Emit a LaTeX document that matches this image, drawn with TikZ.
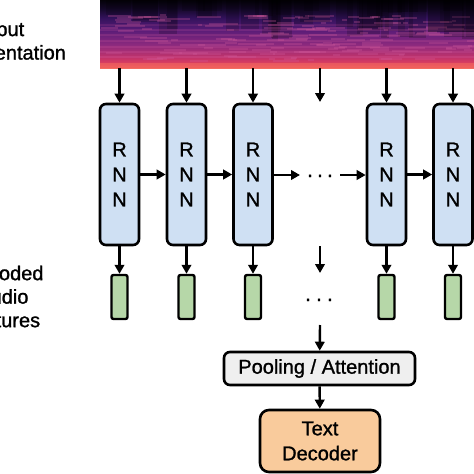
\documentclass[tikz,border=0pt]{standalone}
\usepackage{fontspec}
\setmainfont[FakeBold=1.2]{Liberation Sans}
\usetikzlibrary{arrows.meta}
\definecolor{rnnblue}{HTML}{CFE0F3}
\definecolor{featgreen}{HTML}{B6D7A8}
\definecolor{poolgray}{HTML}{EFEFEF}
\definecolor{decorange}{HTML}{F9CB9C}
\definecolor{spA}{HTML}{F47060}
\definecolor{spB}{HTML}{E8475A}
\definecolor{spC}{HTML}{C73468}
\definecolor{spD}{HTML}{8E2A7E}
\definecolor{spE}{HTML}{5A1C78}
\definecolor{spF}{HTML}{33125C}
\definecolor{spG}{HTML}{140828}
\definecolor{spH}{HTML}{05020A}
\definecolor{specpink}{HTML}{D25A9C}
\pgfdeclareverticalshading{specshade}{100bp}{color(0bp)=(spA); color(25bp)=(spA); color(27bp)=(spB); color(32bp)=(spC); color(42bp)=(spD); color(53bp)=(spE); color(62bp)=(spF); color(69bp)=(spG); color(75bp)=(spH); color(100bp)=(spH)}
\tikzset{
  arr/.style={line width=2.4pt, -{Triangle[length=9pt,width=9.5pt]}},
  rnnbox/.style={draw, line width=2.6pt, fill=rnnblue, rounded corners=6pt, minimum width=39pt, minimum height=141pt, inner sep=0pt, align=center, font=\fontsize{20}{25}\selectfont},
  featbox/.style={draw, line width=2.4pt, fill=featgreen, rounded corners=2pt, minimum width=16pt, minimum height=44pt, inner sep=0pt},
  poolbox/.style={draw, line width=2.6pt, fill=poolgray, rounded corners=6pt, minimum width=191pt, minimum height=33pt, inner sep=0pt, font=\fontsize{20}{25}\selectfont},
  decbox/.style={draw, line width=2.6pt, fill=decorange, rounded corners=9pt, minimum width=120pt, minimum height=62pt, inner sep=0pt, align=center, font=\fontsize{20}{25}\selectfont},
  lab/.style={align=center, inner sep=0pt, font=\fontsize{20}{23.5}\selectfont},
  dots/.style={inner sep=0pt, font=\fontsize{20}{24}\selectfont}
}
\begin{document}
\begin{tikzpicture}[x=1pt,y=-1pt]
\useasboundingbox (0,0) rectangle (474,474);
\clip (0,0) rectangle (474,474);
\fill[white] (0,0) rectangle (474,474);

% spectrogram
\node[name=spec, anchor=north west, inner sep=0pt, minimum width=374pt, minimum height=68pt, shading=specshade] at (100,0) {};
\begin{scope}
\clip (100,0) rectangle (474,68);
\pgfmathsetseed{3}
\foreach \i in {1,...,40}{
  \pgfmathsetmacro{\sx}{100+374*rnd}
  \pgfmathsetmacro{\sy}{10+30*rnd}
  \pgfmathsetmacro{\sw}{6+20*rnd}
  \fill[black, opacity=0.18] (\sx,0) rectangle ++(\sw,\sy);
}
\foreach \i in {1,...,170}{
  \pgfmathsetmacro{\sx}{100+374*rnd}
  \pgfmathsetmacro{\sy}{14+46*rnd}
  \pgfmathsetmacro{\sw}{4+26*rnd}
  \fill[specpink, opacity=0.28] (\sx,\sy) rectangle ++(\sw,2);
}
\foreach \yy/\op in {24/0.15, 29/0.2, 34/0.2, 40/0.22, 46/0.22, 51/0.25, 56/0.28}
  \fill[specpink, opacity=\op] (100,\yy) rectangle (474,\yy+1.6);
\fill[black, opacity=0.35] (428,0) rectangle (474,32);
\fill[black, opacity=0.2] (300,0) rectangle (330,22);
\fill[spA, opacity=0.5] (100,63) rectangle (474,66.5);
\end{scope}

% left labels
\node[lab] (inlab) at (2,43) {Input\\representation};
\node[lab] (enclab) at (4,296.5) {Encoded\\audio\\features};

% RNN boxes
\node[rnnbox] (r1) at (119.5,174.5) {R\\N\\N};
\node[rnnbox] (r2) at (186.5,174.5) {R\\N\\N};
\node[rnnbox] (r3) at (253,174.5) {R\\N\\N};
\node[rnnbox] (r4) at (386.5,174.5) {R\\N\\N};
\node[rnnbox] (r5) at (453,174.5) {R\\N\\N};

% middle column helpers
\coordinate (mtop) at (320,102);
\coordinate (rgapL) at (300,175);
\coordinate (rgapR) at (340,175);
\coordinate (mbot) at (320,273);
\coordinate (mlow) at (320,325);
\node[dots, anchor=base] (hdots) at (320,177) {.\hspace{4.4pt}.\hspace{4.4pt}.};
\node[dots, anchor=base] (fdots) at (319,301) {.\hspace{5.4pt}.\hspace{5.4pt}.};

% feature boxes
\node[featbox] (f1) at (119.5,297) {};
\node[featbox] (f2) at (186.5,297) {};
\node[featbox] (f3) at (253,297) {};
\node[featbox] (f4) at (386.5,297) {};
\node[featbox] (f5) at (453,297) {};

% pooling and decoder
\node[poolbox] (pool) at (319.5,368.5) {Pooling / Attention};
\node[decbox] (dec) at (320,441) {Text\\Decoder};

% arrows from spectrogram
\foreach \n in {r1,r2,r3,r4,r5}
  \draw[arr] (spec.south -| \n) -- (\n);
\draw[arr] (spec.south -| mtop) -- (mtop);

% recurrent arrows
\draw[arr] (r1) -- (r2);
\draw[arr] (r2) -- (r3);
\draw[arr] (r3.east |- rgapL) -- (rgapL);
\draw[arr] (rgapR) -- (r4.west |- rgapR);
\draw[arr] (r4) -- (r5);

% down to features
\draw[arr] (r1) -- (f1);
\draw[arr] (r2) -- (f2);
\draw[arr] (r3) -- (f3);
\draw[arr] (r4) -- (f4);
\draw[arr] (r5) -- (f5);
\draw[arr] (r3.south -| mbot) -- (mbot);

% to pooling and decoder
\draw[arr] (mlow) -- (pool);
\draw[arr] (pool) -- (dec);
\end{tikzpicture}
\end{document}
